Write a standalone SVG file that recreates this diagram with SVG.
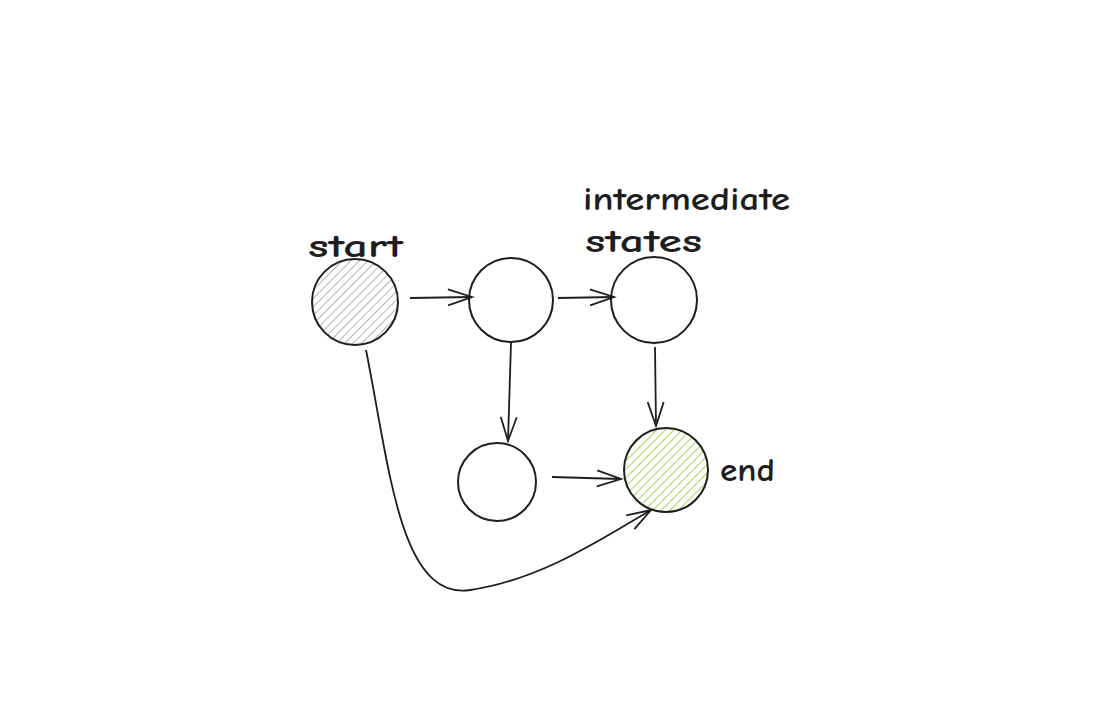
<svg xmlns="http://www.w3.org/2000/svg" width="1104" height="720" viewBox="0 0 1104 720">
<style>
.n{stroke:#1e1e1e;stroke-width:2}
.c{stroke:#1e1e1e;stroke-width:1.8;fill:none}
.t{font-family:"Comic Neue","Liberation Sans",sans-serif;font-size:32px;font-weight:bold;fill:#1e1e1e}
</style>
<defs>
<pattern id="hg" width="6" height="6" patternUnits="userSpaceOnUse" patternTransform="rotate(45)"><line x1="0" y1="0" x2="0" y2="6" stroke="#868e96" stroke-width="1.3"/></pattern>
<pattern id="hgr" width="6" height="6" patternUnits="userSpaceOnUse" patternTransform="rotate(45)"><line x1="0" y1="0" x2="0" y2="6" stroke="#82c91e" stroke-width="1.5"/></pattern>
<marker id="a" markerWidth="30" markerHeight="24" refX="26" refY="12" orient="auto" markerUnits="userSpaceOnUse"><polyline points="2,4 26,12 2,20" fill="none" stroke="#1e1e1e" stroke-width="1.8"/></marker>
</defs>
<rect width="1104" height="720" fill="#fff"/>
<g id="start"><circle cx="355" cy="302" r="43" fill="url(#hg)" class="n"/><text class="t" x="308" y="257" textLength="95" lengthAdjust="spacingAndGlyphs">start</text></g>
<g id="s1"><circle cx="511" cy="300" r="42" fill="none" class="n"/></g>
<g id="s2"><circle cx="654" cy="300" r="43" fill="none" class="n"/><text class="t" x="583" y="210" textLength="207" lengthAdjust="spacingAndGlyphs">intermediate</text><text class="t" x="585" y="252" textLength="117" lengthAdjust="spacingAndGlyphs">states</text></g>
<g id="s3"><circle cx="497" cy="482" r="39" fill="none" class="n"/></g>
<g id="end"><circle cx="666" cy="470" r="42" fill="url(#hgr)" class="n"/><text class="t" x="720" y="481" textLength="55" lengthAdjust="spacingAndGlyphs">end</text></g>
<g id="connectors">
<path class="c" marker-end="url(#a)" d="M410 298 L472 297"/>
<path class="c" marker-end="url(#a)" d="M558 298 L614 297"/>
<path class="c" marker-end="url(#a)" d="M511 343 L508 441"/>
<path class="c" marker-end="url(#a)" d="M655 347 L656 426"/>
<path class="c" marker-end="url(#a)" d="M552 477 L621 479"/>
<path class="c" marker-end="url(#a)" d="M366 350 C390 470 400 600 470 590 C540 580 600 540 651 510"/>
</g>
</svg>
